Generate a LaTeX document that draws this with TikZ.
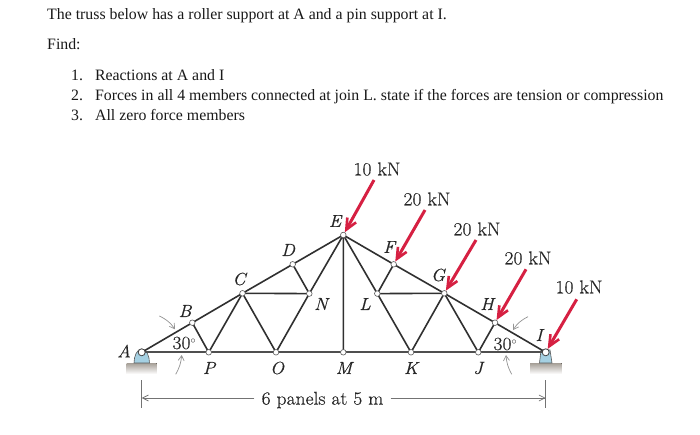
\documentclass[tikz,border=0pt]{standalone}
\usepackage{fontspec}
\newfontfamily\timesf{Liberation Serif}
\newfontfamily\labf[FakeBold=0.35,FakeStretch=1.06]{Latin Modern Roman}
\usetikzlibrary{arrows.meta}
\definecolor{forcered}{RGB}{214,32,66}
\definecolor{memberc}{RGB}{48,48,48}
\definecolor{supportc}{RGB}{165,208,226}
\definecolor{groundc}{RGB}{165,158,150}
\tikzset{
  x=1pt,y=-1pt,
  pinj/.style={circle,draw=gray!70!black,fill=white,line width=.6pt,inner sep=0pt,minimum size=5.6pt},
  bigpin/.style={pinj,minimum size=7pt,draw=black!75,line width=.8pt},
  member/.style={draw=memberc,line width=1.6pt},
  chord/.style={draw=memberc!85,line width=2pt},
  force/.style={draw=forcered,line width=3pt,-{Straight Barb[length=11pt,width=10pt,line width=2.6pt]}},
  thin arrow/.style={draw=gray!85,line width=.7pt,-{Straight Barb[length=5pt,width=6pt]}},
  dimline/.style={draw=gray!90!black,line width=.7pt},
  toptext/.style={anchor=base west,inner sep=0pt,font=\timesf\fontsize{15.83}{18}\selectfont,text=black!90},
  lab/.style={inner sep=0pt,font=\labf\itshape\fontsize{17.5}{18}\selectfont,text=black!85},
  num/.style={inner sep=0pt,font=\labf\fontsize{18.5}{18}\selectfont,text=black!85},
  ground/.style={top color=groundc,bottom color=white,draw=none},
  support/.style={fill=supportc,draw=gray!70!black,line width=.6pt}
}
\begin{document}
\begin{tikzpicture}
\useasboundingbox (0,0) rectangle (700,434);
\fill[white] (0,0) rectangle (700,434);
% text
\node[toptext] (t1) at (47,19.5) {The truss below has a roller support at A and a pin support at I.};
\node[toptext] (t2) at (47,49) {Find:};
\node[toptext] (t3) at (71,80) {1.\hspace{12pt}Reactions at A and I};
\node[toptext] (t4) at (71,100) {2.\hspace{12pt}Forces in all 4 members connected at join L. state if the forces are tension or compression};
\node[toptext] (t5) at (71,120) {3.\hspace{12pt}All zero force members};
% ground and supports
\fill[ground] (126.7,363) rectangle (156.7,374);
\fill[ground] (530,363) rectangle (561.7,374);
\draw[support] (134,363) .. controls (134,356) and (137,349) .. (141.7,349) .. controls (146.4,349) and (149.5,356) .. (149.5,363) -- cycle;
\draw[support] (539.5,363) -- (541,350) -- (550,350) -- (552,363) -- cycle;
% joints
\coordinate (A) at (141.7,352.3);
\coordinate (B) at (192.3,322.7);
\coordinate (C) at (242.5,293.3);
\coordinate (D) at (292.7,264.3);
\coordinate (E) at (343.3,235);
\coordinate (F) at (393.7,264.3);
\coordinate (G) at (444.3,293.3);
\coordinate (H) at (495,322.7);
\coordinate (I) at (545.7,352.3);
\coordinate (P) at (208.7,352.3);
\coordinate (O) at (276,352.3);
\coordinate (M) at (343.3,352.3);
\coordinate (K) at (411,352.3);
\coordinate (J) at (478.3,352.3);
\coordinate (N) at (309.3,293.6);
\coordinate (L) at (377.3,293.6);
% members
\draw[member] (A)--(B)--(C)--(D)--(E)--(F)--(G)--(H)--(I);
\draw[chord] (A)--(P)--(O)--(M)--(K)--(J)--(I);
\draw[member] (B)--(P)--(C)--(O)--(N)--(E)--(M);
\draw[member] (C)--(N)--(D);
\draw[member] (E)--(L)--(F);
\draw[member] (L)--(G)--(K)--(L);
\draw[member] (G)--(J)--(H);
% pins
\foreach \p in {B,C,D,E,F,G,H,P,O,M,K,J,N,L}
  \node[pinj] (n\p) at (\p) {};
\foreach \p in {A,I}
  \node[bigpin] (n\p) at (\p) {};
% forces
\coordinate (f1) at (374,180);
\coordinate (f2) at (425,210);
\coordinate (f3) at (476,240);
\coordinate (f4) at (526,269.3);
\coordinate (f5) at (576.7,299.3);
\draw[force] (f1) -- (nE);
\draw[force] (f2) -- (nF);
\draw[force] (f3) -- (nG);
\draw[force] (f4) -- (nH);
\draw[force] (f5) -- (nI);
% labels
\node[num] (q1) at (377,169) {10 kN};
\node[num] (q2) at (427,199) {20 kN};
\node[num] (q3) at (477,229) {20 kN};
\node[num] (q4) at (528,258) {20 kN};
\node[num] (q5) at (579,287) {10 kN};
\node[lab] (la) at (124,351) {A};
\node[lab] (lb) at (185,311) {B};
\node[lab] (lc) at (239,279) {C};
\node[lab] (ld) at (288,250) {D};
\node[lab] (le) at (335,221) {E};
\node[lab] (lf) at (389,247) {F};
\node[lab] (lg) at (438,275) {G};
\node[lab] (lh) at (487,304) {H};
\node[lab] (li) at (539,335) {I};
\node[lab] (lp) at (209,368) {P};
\node[lab] (lo) at (277,368) {O};
\node[lab] (lm) at (344,368) {M};
\node[lab] (lk) at (411,368) {K};
\node[lab] (lj) at (478,368) {J};
\node[lab] (ln) at (321,304) {N};
\node[lab] (ll) at (365,304) {L};
\node[num] (a1) at (184,343) {30\raisebox{5pt}{\fontsize{10}{10}\selectfont$\circ$}};
\node[num] (a2) at (505,344) {30\raisebox{5pt}{\fontsize{10}{10}\selectfont$\circ$}};
% section arrows
\coordinate (s1a) at (159.3,316);
\coordinate (s1b) at (175,329.3);
\coordinate (s2a) at (175.7,374.3);
\coordinate (s2b) at (181.7,355);
\coordinate (s3a) at (528,316.7);
\coordinate (s3b) at (513,330);
\coordinate (s4a) at (511.7,374.3);
\coordinate (s4b) at (506,355);
\draw[thin arrow] (s1a) to[bend left=15] (s1b);
\draw[thin arrow] (s2a) to[bend right=12] (s2b);
\draw[thin arrow] (s3a) to[bend right=15] (s3b);
\draw[thin arrow] (s4a) to[bend left=12] (s4b);
% dimension
\node[num] (dim) at (322.5,400) {6 panels at 5 m};
\coordinate (d1) at (141.7,398);
\coordinate (d2) at (545.7,398);
\draw[dimline] (141.7,380) -- (d1) -- (141.7,408);
\draw[dimline] (545.7,380) -- (d2) -- (545.7,408);
\draw[dimline,-{Straight Barb[length=6pt,width=6pt]}] (dim.west) ++(-7,-2) -- (d1);
\draw[dimline,-{Straight Barb[length=6pt,width=6pt]}] (dim.east) ++(7,-2) -- (d2);
\end{tikzpicture}
\end{document}
